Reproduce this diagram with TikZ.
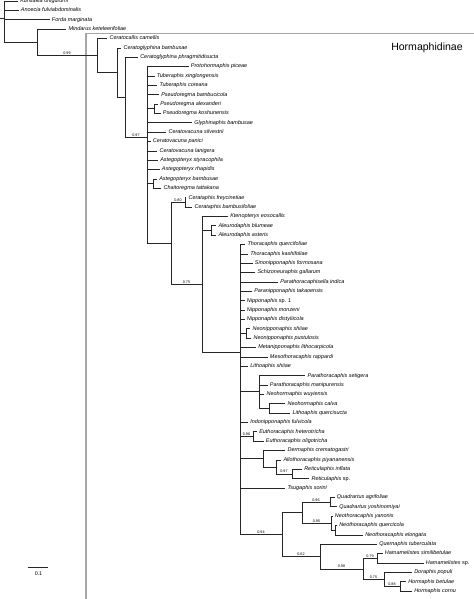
\documentclass[tikz,border=0pt]{standalone}
\usepackage{fontspec}
\setsansfont{Liberation Sans}
\usepackage{tikz}

\begin{document}
\begin{tikzpicture}[x=0.75pt,y=0.75pt,yscale=-1,xscale=1,
	branch/.style={draw=black!85, line width=0.45pt},
	frame/.style={draw=black!35, line width=1.1pt},
	taxon/.style={anchor=west, inner sep=1.5pt, text height=3pt, text depth=0.9pt, font=\sffamily\itshape\fontsize{4.1}{5}\selectfont},
	supp/.style={above, inner sep=0.5pt, font=\sffamily\fontsize{2.8}{3}\selectfont}]
	\useasboundingbox (0,0) rectangle (474,599);
	
	%Shape: Hormaphidinae frame
	\coordinate (fr0) at (86,33.5);
	\coordinate (fr1) at (474,33.5);
	\coordinate (fr2) at (86,599);
	\draw[frame] (fr1) -- (fr0) -- (fr2);
	\node[anchor=west, inner sep=0pt, font=\sffamily\fontsize{7.9}{9}\selectfont] (hormlab) at (391,48) {Hormaphidinae};
	
	% Internal nodes
	\coordinate (rstub) at (0,18.4);
	\coordinate (r0) at (4,18.4);
	\coordinate (n37) at (37,42.3);
	\coordinate (n97) at (97,55.5);
	\coordinate (n117) at (117,72.5);
	\coordinate (n125) at (125,97.2);
	\coordinate (n147) at (147,137.3);
	\coordinate (npseu) at (154,108.7);
	\coordinate (nast) at (153.3,183.6);
	\coordinate (n171) at (171,243.3);
	\coordinate (n185) at (185,202.35);
	\coordinate (n202) at (202,284.3);
	\coordinate (naleu) at (211.7,230.45);
	\coordinate (n240) at (240,352);
	\coordinate (nneo) at (246.7,333.46);
	\coordinate (npa) at (259,390.8);
	\coordinate (npc) at (269,408.38);
	\coordinate (neuth) at (253,436.48);
	\coordinate (nderm) at (263,458.7);
	\coordinate (nallo) at (276,466.9);
	\coordinate (nret) at (292,473.9);
	\coordinate (n282) at (282,534.5);
	\coordinate (n302) at (302,512.6);
	\coordinate (nquad) at (330,502.03);
	\coordinate (nneoth) at (331,523.1);
	\coordinate (nneoth2) at (335,530.1);
	\coordinate (n320) at (320,556.5);
	\coordinate (n363) at (363,568.8);
	\coordinate (nhamam) at (377,558.2);
	\coordinate (ndora) at (384,579.3);
	\coordinate (nhorm) at (400,586.3);
	
	% Taxa
	\node[taxon] (t01) at (18,1.00) {Kurisakia onigurumi};
	\node[taxon] (t02) at (18.7,10.37) {Anoecia fulviabdominalis};
	\node[taxon] (t03) at (49.7,19.73) {Forda marginata};
	\node[taxon] (t04) at (66.3,29.10) {Mindarus keteleerifoliae};
	\node[taxon] (t05) at (107.3,38.46) {Ceratocallis camellis};
	\node[taxon] (t06) at (121.3,47.83) {Ceratoglyphina bambusae};
	\node[taxon] (t07) at (138,57.19) {Ceratoglyphina phragmitidisucta};
	\node[taxon] (t08) at (188.7,66.56) {Protohormaphis piceae};
	\node[taxon] (t09) at (154.7,75.92) {Tuberaphis xinglongensis};
	\node[taxon] (t10) at (157.3,85.29) {Tuberaphis coreana};
	\node[taxon] (t11) at (159,94.65) {Pseudoregma bambucicola};
	\node[taxon] (t12) at (158,104.02) {Pseudoregma alexanderi};
	\node[taxon] (t13) at (160.7,113.38) {Pseudoregma koshunensis};
	\node[taxon] (t14) at (192,122.75) {Glyphinaphis bambusae};
	\node[taxon] (t15) at (166.3,132.11) {Ceratovacuna silvestrii};
	\node[taxon] (t16) at (150.7,141.48) {Ceratovacuna panici};
	\node[taxon] (t17) at (157.3,150.84) {Ceratovacuna lanigera};
	\node[taxon] (t18) at (158,160.21) {Astegopteryx styracophila};
	\node[taxon] (t19) at (159.7,169.57) {Astegopteryx rhapidis};
	\node[taxon] (t20) at (157,178.94) {Astegopteryx bambusae};
	\node[taxon] (t21) at (161.3,188.30) {Chaitoregma tattakana};
	\node[taxon] (t22) at (186.3,197.67) {Cerataphis freycinetiae};
	\node[taxon] (t23) at (192.3,207.03) {Cerataphis bambusifoliae};
	\node[taxon] (t24) at (228,216.40) {Ktenopteryx eosocallis};
	\node[taxon] (t25) at (216.3,225.76) {Aleurodaphis blumeae};
	\node[taxon] (t26) at (216.3,235.13) {Aleurodaphis asteris};
	\node[taxon] (t27) at (245.3,244.49) {Thoracaphis quercifoliae};
	\node[taxon] (t28) at (248,253.86) {Thoracaphis kashifoliae};
	\node[taxon] (t29) at (252.7,263.22) {Sinonipponaphis formosana};
	\node[taxon] (t30) at (255.3,272.59) {Schizoneuraphis gallarum};
	\node[taxon] (t31) at (278,281.95) {Parathoracaphisella indica};
	\node[taxon] (t32) at (252,291.32) {Paranipponaphis takaoensis};
	\node[taxon] (t33) at (244.7,300.68) {Nipponaphis \textup{sp. 1}};
	\node[taxon] (t34) at (244.7,310.05) {Nipponaphis monzeni};
	\node[taxon] (t35) at (244.7,319.41) {Nipponaphis distyliicola};
	\node[taxon] (t36) at (250.3,328.78) {Neonipponaphis shiiae};
	\node[taxon] (t37) at (251.3,338.14) {Neonipponaphis pustulosis};
	\node[taxon] (t38) at (256,347.51) {Metanipponaphis lithocarpicola};
	\node[taxon] (t39) at (267.7,356.87) {Mesothoracaphis rappardi};
	\node[taxon] (t40) at (248,366.24) {Lithoaphis shiiae};
	\node[taxon] (t41) at (305.3,375.60) {Parathoracaphis setigera};
	\node[taxon] (t42) at (267.7,384.97) {Parathoracaphis manipurensis};
	\node[taxon] (t43) at (264.3,394.33) {Neohormaphis wuyiensis};
	\node[taxon] (t44) at (285.3,403.70) {Neohormaphis calva};
	\node[taxon] (t45) at (290.3,413.06) {Lithoaphis quercisucta};
	\node[taxon] (t46) at (248,422.43) {Indonipponaphis fulvicola};
	\node[taxon] (t47) at (257,431.79) {Euthoracaphis heterotricha};
	\node[taxon] (t48) at (263.7,441.16) {Euthoracaphis oligotricha};
	\node[taxon] (t49) at (285.3,450.52) {Dermaphis crematogastri};
	\node[taxon] (t50) at (281.3,459.89) {Allothoracaphis piyananensis};
	\node[taxon] (t51) at (302,469.25) {Reticulaphis inflata};
	\node[taxon] (t52) at (309.3,478.62) {Reticulaphis \textup{sp.}};
	\node[taxon] (t53) at (285.3,487.98) {Tsugaphis sorini};
	\node[taxon] (t54) at (334.7,497.35) {Quadrartus agrifoliae};
	\node[taxon] (t55) at (337,506.71) {Quadrartus yoshinomiyai};
	\node[taxon] (t56) at (332.7,516.08) {Neothoracaphis yanonis};
	\node[taxon] (t57) at (337,525.44) {Neothoracaphis quercicola};
	\node[taxon] (t58) at (363,534.81) {Neothoracaphis elongata};
	\node[taxon] (t59) at (377,544.17) {Quernaphis tuberculata};
	\node[taxon] (t60) at (382.7,553.54) {Hamamelistes similibetulae};
	\node[taxon] (t61) at (423.7,562.90) {Hamamelistes \textup{sp.}};
	\node[taxon] (t62) at (412,572.27) {Doraphis populi};
	\node[taxon] (t63) at (406,581.63) {Hormaphis betulae};
	\node[taxon] (t64) at (412,591.00) {Hormaphis cornu};
	
	% Branches
	\draw[branch] (rstub) -- (r0) (r0) |- (t01.west) (r0) |- (t02.west) (r0) |- (t03.west) (r0) |- (n37);
	\draw[branch] (n37) |- (t04.west) (n37) |- node[supp, pos=0.75] {0.99} (n97);
	\draw[branch] (n97) |- (t05.west) (n97) |- (n117);
	\draw[branch] (n117) |- (t06.west) (n117) |- (n125);
	\draw[branch] (n125) |- (t07.west) (n125) |- node[supp, pos=0.75] {0.97} (n147);
	\draw[branch] (n147) |- (t08.west) (n147) |- (t09.west) (n147) |- (t10.west) (n147) |- (t11.west)
		(n147) |- (npseu) (n147) |- (t14.west) (n147) |- (t15.west) (n147) |- (t16.west) (n147) |- (t17.west)
		(n147) |- (t18.west) (n147) |- (t19.west) (n147) |- (nast) (n147) |- (n171);
	\draw[branch] (npseu) |- (t12.west) (npseu) |- (t13.west);
	\draw[branch] (nast) |- (t20.west) (nast) |- (t21.west);
	\draw[branch] (n171) |- node[supp, pos=0.75] {0.80} (n185) (n171) |- node[supp, pos=0.75] {0.75} (n202);
	\draw[branch] (n185) |- (t22.west) (n185) |- (t23.west);
	\draw[branch] (n202) |- (t24.west) (n202) |- (naleu) (n202) |- (n240);
	\draw[branch] (naleu) |- (t25.west) (naleu) |- (t26.west);
	\draw[branch] (n240) |- (t27.west) (n240) |- (t28.west) (n240) |- (t29.west) (n240) |- (t30.west)
		(n240) |- (t31.west) (n240) |- (t32.west) (n240) |- (t33.west) (n240) |- (t34.west) (n240) |- (t35.west)
		(n240) |- (nneo) (n240) |- (t38.west) (n240) |- (t39.west) (n240) |- (t40.west) (n240) |- (npa)
		(n240) |- (t46.west) (n240) |- node[supp, pos=0.75] {0.96} (neuth) (n240) |- (nderm) (n240) |- (t53.west)
		(n240) |- node[supp, pos=0.75] {0.94} (n282);
	\draw[branch] (nneo) |- (t36.west) (nneo) |- (t37.west);
	\draw[branch] (npa) |- (t41.west) (npa) |- (t42.west) (npa) |- (t43.west) (npa) |- (npc);
	\draw[branch] (npc) |- (t44.west) (npc) |- (t45.west);
	\draw[branch] (neuth) |- (t47.west) (neuth) |- (t48.west);
	\draw[branch] (nderm) |- (t49.west) (nderm) |- (nallo);
	\draw[branch] (nallo) |- (t50.west) (nallo) |- node[supp, pos=0.75] {0.97} (nret);
	\draw[branch] (nret) |- (t51.west) (nret) |- (t52.west);
	\draw[branch] (n282) |- (n302) (n282) |- node[supp, pos=0.75] {0.62} (n320);
	\draw[branch] (n302) |- node[supp, pos=0.75] {0.96} (nquad) (n302) |- node[supp, pos=0.75] {0.95} (nneoth);
	\draw[branch] (nquad) |- (t54.west) (nquad) |- (t55.west);
	\draw[branch] (nneoth) |- (t56.west) (nneoth) |- (nneoth2);
	\draw[branch] (nneoth2) |- (t57.west) (nneoth2) |- (t58.west);
	\draw[branch] (n320) |- (t59.west) (n320) |- node[supp, pos=0.75] {0.98} (n363);
	\draw[branch] (n363) |- node[supp, pos=0.75] {0.79} (nhamam) (n363) |- node[supp, pos=0.75] {0.75} (ndora);
	\draw[branch] (nhamam) |- (t60.west) (nhamam) |- (t61.west);
	\draw[branch] (ndora) |- (t62.west) (ndora) |- node[supp, pos=0.75] {0.88} (nhorm);
	\draw[branch] (nhorm) |- (t63.west) (nhorm) |- (t64.west);
	
	%Scale bar
	\coordinate (sb1) at (28.3,567.7);
	\coordinate (sb2) at (48.3,567.7);
	\draw[branch] (sb1) -- (sb2);
	\node[inner sep=0pt, font=\sffamily\fontsize{4}{5}\selectfont] (sblab) at (38.5,573.5) {0.1};
	
\end{tikzpicture}
\end{document}
